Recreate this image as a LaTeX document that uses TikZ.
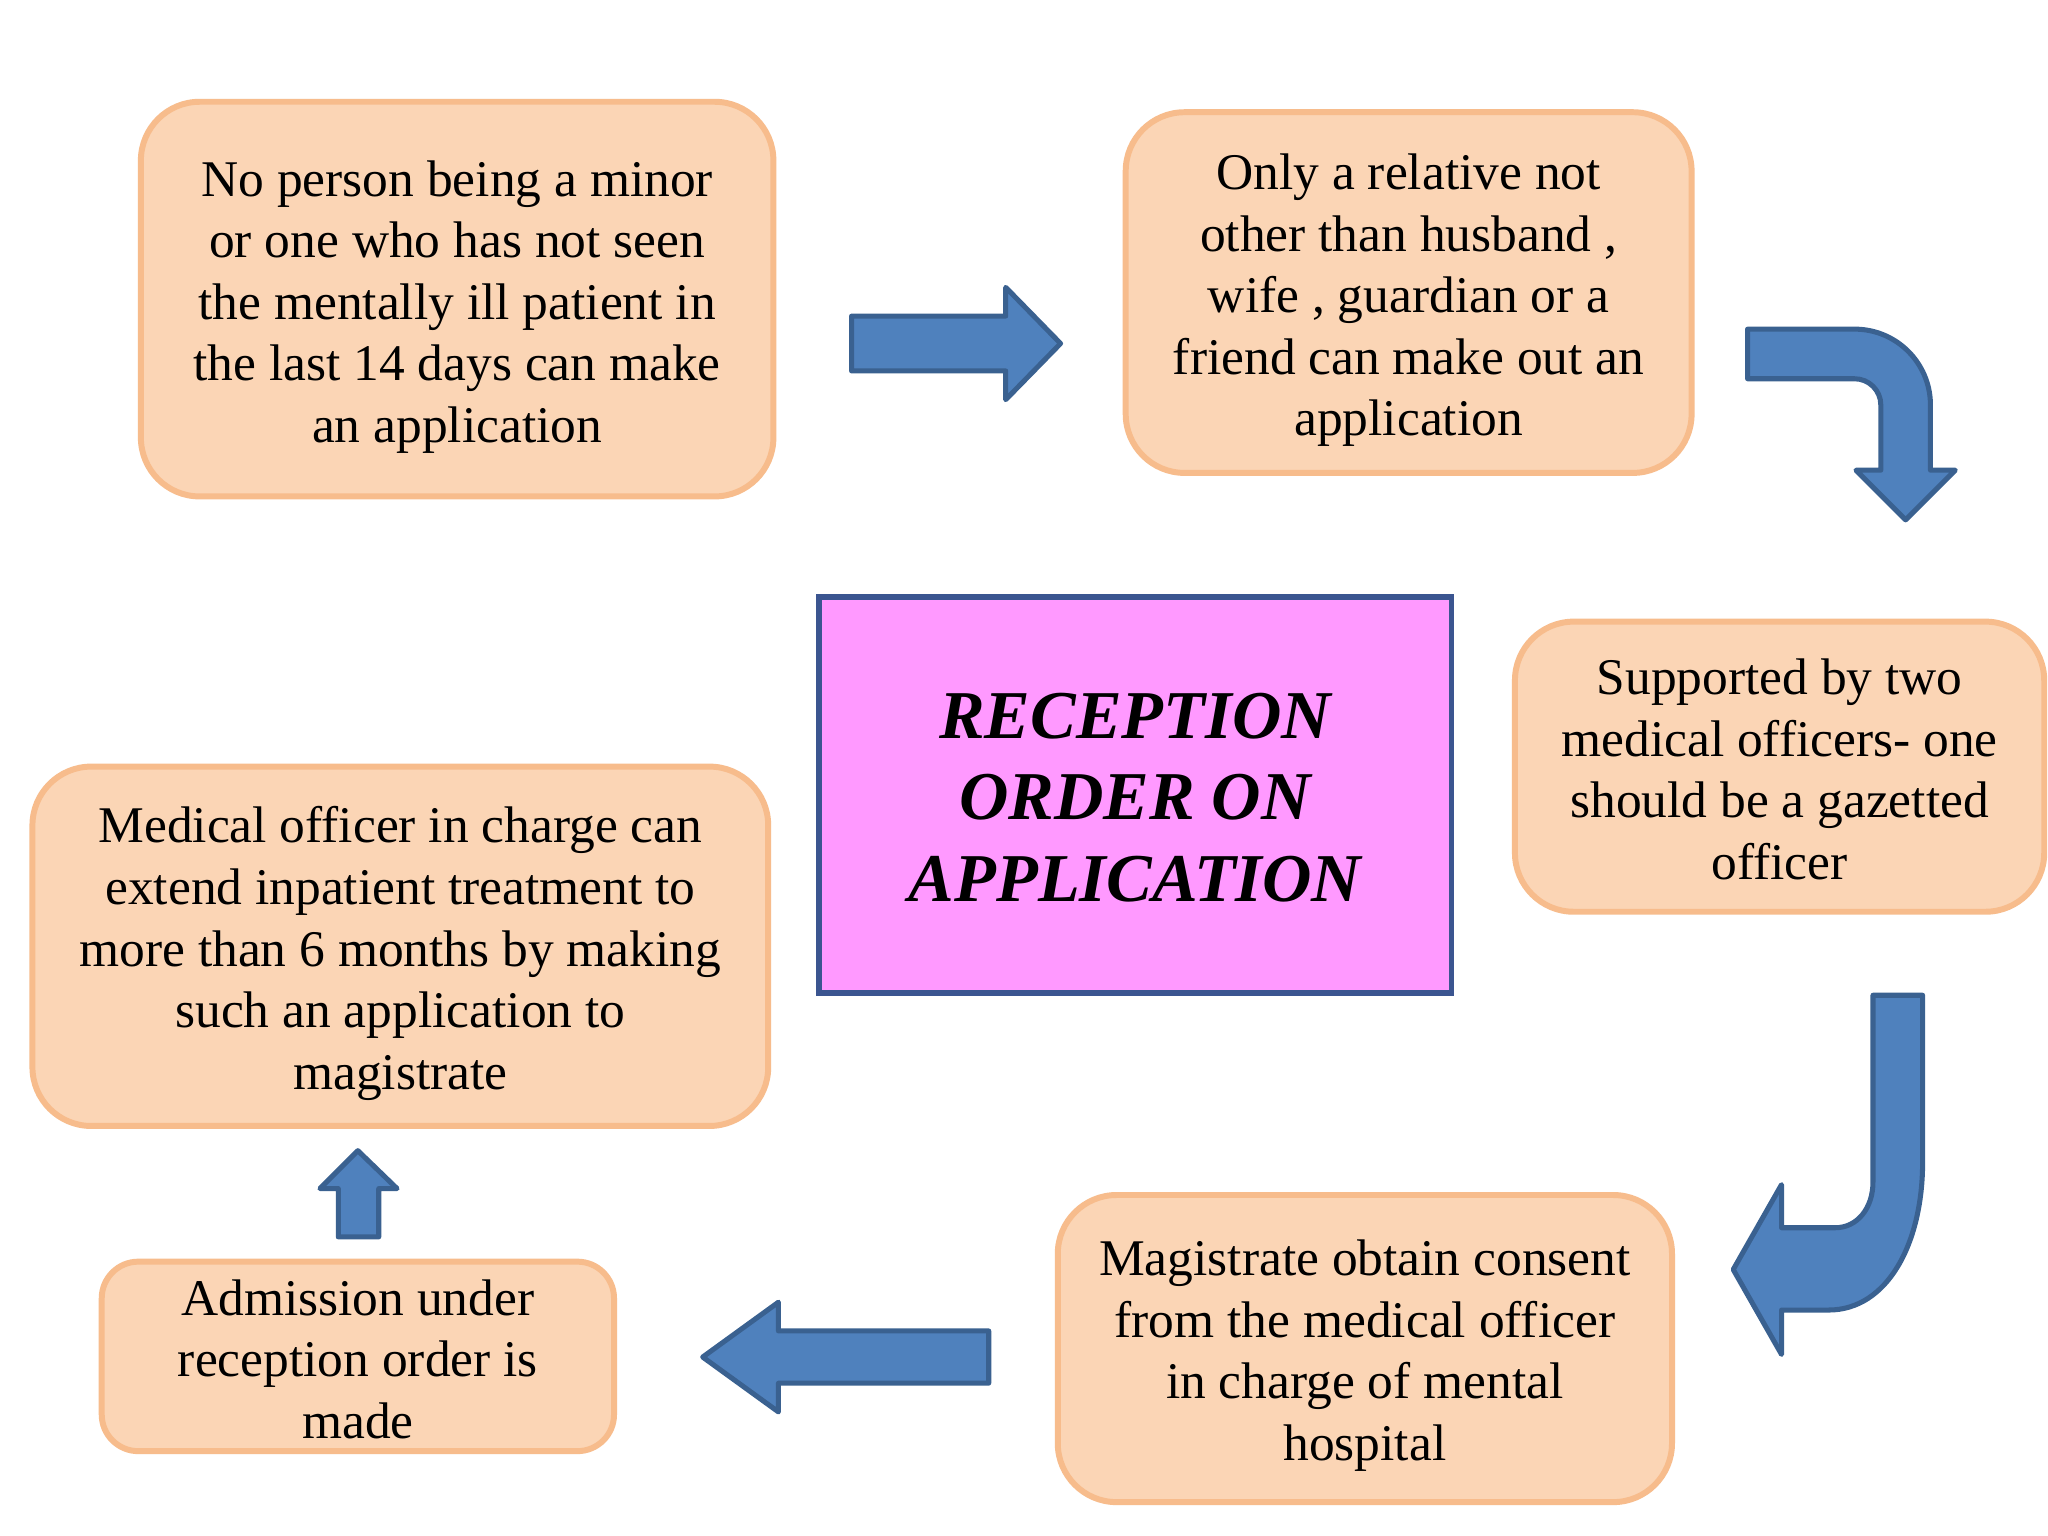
\documentclass[tikz,border=0pt]{standalone}
\usepackage{fontspec}
\setmainfont{Liberation Serif}
\definecolor{peach}{HTML}{FBD5B5}
\definecolor{peachline}{HTML}{F7BC8C}
\definecolor{arrowfill}{HTML}{4F81BD}
\definecolor{arrowline}{HTML}{3A6190}
\definecolor{pinkfill}{HTML}{FF99FF}
\definecolor{pinkline}{HTML}{3B5590}
\begin{document}
\begin{tikzpicture}[x=0.01cm,y=-0.01cm,
  stepbox/.style={draw=peachline, fill=peach, line width=1.3pt, rounded corners=0.45cm, inner sep=0pt},
  steptext/.style={inner sep=0pt, align=center, font=\fontsize{11.2pt}{13.4pt}\selectfont},
  centerbox/.style={draw=pinkline, fill=pinkfill, line width=1.2pt, inner sep=0pt},
  centertext/.style={inner sep=0pt, align=center, font=\fontsize{14.9pt}{17.7pt}\selectfont\bfseries\itshape},
  blockarrow/.style={draw=arrowline, fill=arrowfill, line width=1.1pt, line join=round}]
\useasboundingbox (0,0) rectangle (1568,1176);
\fill[white] (0,0) rectangle (1568,1176);

\node[stepbox, minimum width=4.84cm, minimum height=3.02cm] (a) at (350,229) {};
\node[steptext] (ta) at (350,235)
  {No person being a minor\\or one who has not seen\\the mentally ill patient in\\the last 14 days can make\\an application};
\node[stepbox, minimum width=4.33cm, minimum height=2.76cm] (b) at (1078.5,224) {};
\node[steptext] (tb) at (1078.5,230)
  {Only a relative not\\other than husband ,\\wife , guardian or a\\friend can make out an\\application};
\node[stepbox, minimum width=4.05cm, minimum height=2.22cm] (c) at (1362.5,587) {};
\node[steptext] (tc) at (1362.5,589)
  {Supported by two\\medical officers- one\\should be a gazetted\\officer};
\node[centerbox, minimum width=4.84cm, minimum height=3.03cm] (m) at (869,608.5) {};
\node[centertext] (tm) at (869,610.5)
  {RECEPTION\\ORDER ON\\APPLICATION};
\node[stepbox, minimum width=5.63cm, minimum height=2.75cm] (d) at (306.5,724.5) {};
\node[steptext] (td) at (306.5,730)
  {Medical officer in charge can\\extend inpatient treatment to\\more than 6 months by making\\such an application to\\magistrate};
\node[stepbox, minimum width=4.70cm, minimum height=2.35cm] (e) at (1045,1032.5) {};
\node[steptext] (te) at (1045,1038)
  {Magistrate obtain consent\\from the medical officer\\in charge of mental\\hospital};
\node[stepbox, rounded corners=0.28cm, minimum width=3.92cm, minimum height=1.45cm] (f) at (274,1038.5) {};
\node[steptext] (tf) at (274,1040.5)
  {Admission under\\reception order is\\made};

% arrow a -> b
\draw[blockarrow] (652,242) -- (770,242) -- (770,220) -- (812,263) -- (770,306) -- (770,284) -- (652,284) -- cycle;
% curved arrow b -> c
\draw[blockarrow] (1338,252) -- (1420,252) .. controls (1452,252) and (1478,278) .. (1478,310)
  -- (1478,360) -- (1497,360) -- (1459,398) -- (1421,360) -- (1440,360) -- (1440,310)
  .. controls (1440,299) and (1431,290) .. (1420,290) -- (1338,290) -- cycle;
% J arrow c -> e
\draw[blockarrow] (1434,762) -- (1472,762) -- (1472,890) .. controls (1472,952) and (1445,1003) .. (1400,1003)
  -- (1364,1003) -- (1364,1037) -- (1327,972) -- (1364,907) -- (1364,940) -- (1405,940)
  .. controls (1422,940) and (1434,925) .. (1434,905) -- cycle;
% arrow e -> f
\draw[blockarrow] (757,1019) -- (596,1019) -- (596,997) -- (538,1039) -- (596,1081) -- (596,1059) -- (757,1059) -- cycle;
% arrow f -> d
\draw[blockarrow] (259,947) -- (259,910) -- (245,910) -- (274,881) -- (304,910) -- (290,910) -- (290,947) -- cycle;
\end{tikzpicture}
\end{document}
